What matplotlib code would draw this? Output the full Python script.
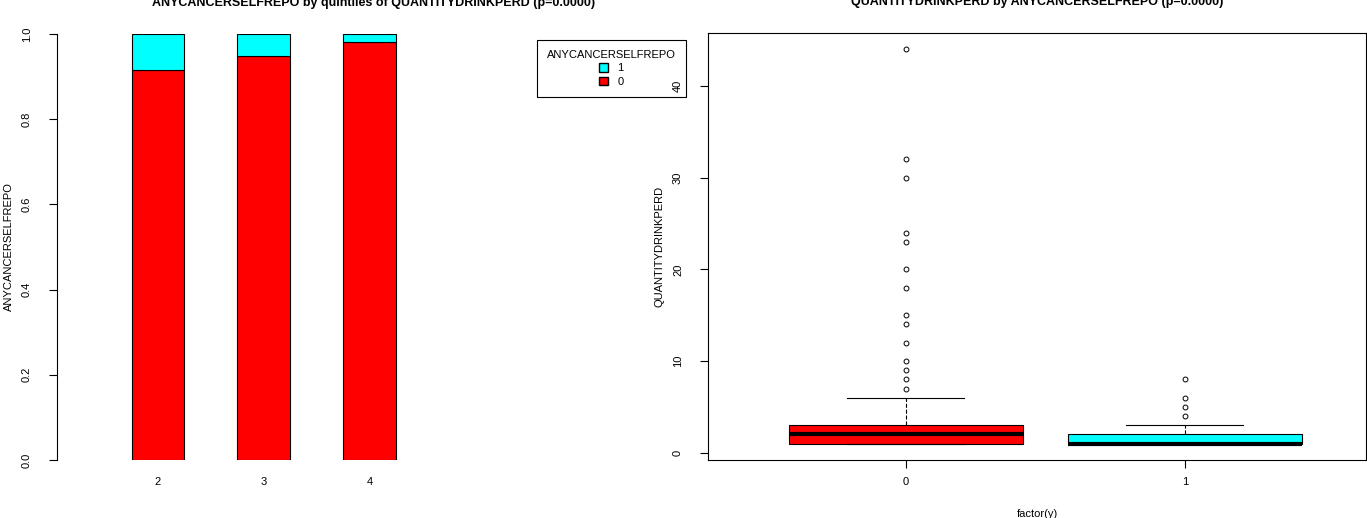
import matplotlib
matplotlib.use("Agg")
from matplotlib import pyplot as plt
from matplotlib.patches import Patch

plt.rcParams['font.family'] = ['Liberation Sans', 'DejaVu Sans']
plt.rcParams['font.size'] = 8

# left panel: share of ANYCANCERSELFREPO by quintile
quintiles = [2, 3, 4]
share0 = [0.915, 0.948, 0.982]
share1 = [1 - v for v in share0]

# right panel: box stats of QUANTITYDRINKPERD
groups = ['0', '1']
q1 = [1, 1]
med = [2, 1]
q3 = [3, 2]
whislo = [1, 1]
whishi = [6, 3]
fliers = [[7, 8, 9, 10, 12, 14, 15, 18, 20, 23, 24, 30, 32, 44],
          [4, 5, 6, 8]]
box_colors = ['#ff0000', '#00ffff']

W, H = 1367, 518
fig = plt.figure(figsize=(W / 100, H / 100), dpi=100)


def rect(x0, y0, x1, y1):
    return [x0 / W, 1 - y1 / H, (x1 - x0) / W, (y1 - y0) / H]


ax = fig.add_axes(rect(57, 34, 690, 460))
ax.bar(quintiles, share0, width=0.5, color='#ff0000', edgecolor='black', linewidth=0.8)
ax.bar(quintiles, share1, bottom=share0, width=0.5, color='#00ffff', edgecolor='black', linewidth=0.8)
ax.set_xlim(1.047, 7.02)
ax.set_ylim(0, 1)
for s in ['top', 'right', 'bottom']:
    ax.spines[s].set_visible(False)
ax.set_xticks(quintiles)
ax.tick_params(axis='x', length=0, pad=12)
ax.set_yticks([0, 0.2, 0.4, 0.6, 0.8, 1.0])
ax.set_yticklabels(['0.0', '0.2', '0.4', '0.6', '0.8', '1.0'], rotation=90, va='center')
ax.tick_params(axis='y', length=6, pad=12)
ax.set_ylabel('ANYCANCERSELFREPO', labelpad=6)
ax.set_title('ANYCANCERSELFREPO by quintiles of QUANTITYDRINKPERD (p=0.0000)',
             fontweight='bold', fontsize=9, pad=20)
leg = ax.legend(handles=[Patch(facecolor='#00ffff', edgecolor='black'),
                         Patch(facecolor='#ff0000', edgecolor='black')],
                labels=['1', '0'], title='ANYCANCERSELFREPO', loc='upper left',
                bbox_to_anchor=((537 - 57) / 633, (460 - 40) / 426),
                fancybox=False, edgecolor='black', framealpha=1,
                handlelength=0.8, handleheight=0.8, borderpad=0.9,
                labelspacing=0.3, borderaxespad=0)
leg.get_frame().set_linewidth(0.8)

ax2 = fig.add_axes(rect(708, 33, 1366, 460))
stats = []
for i in range(2):
    stats.append(dict(q1=q1[i], med=med[i], q3=q3[i], whislo=whislo[i],
                      whishi=whishi[i], fliers=fliers[i]))
bp = ax2.bxp(stats, positions=[0, 1], widths=0.84, patch_artist=True,
             medianprops=dict(color='black', linewidth=3),
             whiskerprops=dict(linestyle='--', color='black', linewidth=0.8),
             capprops=dict(color='black', linewidth=0.8), capwidths=0.42,
             flierprops=dict(marker='o', markersize=3.5, markerfacecolor='white',
                             markeredgecolor='black', markeredgewidth=0.7))
for patch, c in zip(bp['boxes'], box_colors):
    patch.set_facecolor(c)
    patch.set_edgecolor('black')
    patch.set_linewidth(0.8)
ax2.set_xlim(-0.709, 1.649)
ax2.set_ylim(-0.8, 45.8)
ax2.set_xticks([0, 1])
ax2.set_xticklabels(groups)
ax2.set_yticks([0, 10, 20, 30, 40])
ax2.set_yticklabels(['0', '10', '20', '30', '40'], rotation=90, va='center')
ax2.tick_params(axis='y', length=6, pad=12)
ax2.tick_params(axis='x', length=6, pad=6)
ax2.set_xlabel('factor(y)', labelpad=16)
ax2.set_ylabel('QUANTITYDRINKPERD', labelpad=6)
ax2.set_title('QUANTITYDRINKPERD by ANYCANCERSELFREPO (p=0.0000)',
              fontweight='bold', fontsize=9, pad=20)

fig.savefig('out.png', dpi=100)
